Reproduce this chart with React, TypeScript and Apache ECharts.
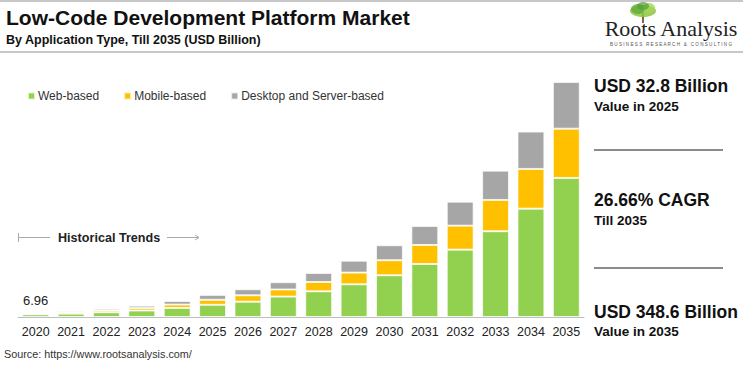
import React, { useEffect, useRef } from "react";
import * as echarts from "echarts";

const years = ["2020","2021","2022","2023","2024","2025","2026","2027","2028","2029","2030","2031","2032","2033","2034","2035"];
const webBased = [4.0, 5.0, 7.0, 9.6, 13.4, 18.1, 22.7, 30.3, 38.1, 48.5, 61.9, 78.6, 99.9, 127.2, 160.7, 206.3];
const mobileBased = [1.5, 1.8, 2.6, 3.6, 5.0, 7.4, 9.5, 10.5, 13.8, 17.4, 22.3, 28.2, 35.6, 46.4, 58.9, 73.0];
const desktopServer = [1.46, 1.8, 2.6, 3.6, 5.3, 7.3, 8.9, 10.8, 13.4, 17.6, 22.2, 28.2, 35.5, 43.4, 55.4, 69.3];
const firstLabel = "6.96";
const seriesNames = ["Web-based", "Mobile-based", "Desktop and Server-based"];
const colors = ["#92D050", "#FFC000", "#A6A6A6"];

const FONT = "Arial, 'Liberation Sans', sans-serif";

export default function App() {
  const ref = useRef<HTMLDivElement>(null);
  useEffect(() => {
    if (!ref.current) return;
    const chart = echarts.init(ref.current, undefined, { renderer: "svg" });
    const mk = (name: string, data: number[], color: string, top: boolean) => ({
      name,
      type: "bar",
      stack: "total",
      barCategoryGap: "24%",
      data: data.map((v, i) =>
        top && i === 0
          ? {
              value: v,
              label: {
                show: true,
                position: "top",
                distance: 5,
                formatter: firstLabel,
                fontSize: 13,
                color: "#222",
                fontFamily: FONT,
              },
            }
          : v
      ),
      itemStyle: { color, borderColor: "rgba(255,255,255,0.7)", borderWidth: 1 },
    });
    const textStyle = (size: number, weight = "bold", color = "#111") => ({
      fill: color,
      font: `${weight} ${size}px ${FONT}`,
    });
    chart.setOption({
      animation: false,
      textStyle: { fontFamily: FONT },
      grid: { left: 18, right: 159, top: 81, bottom: 48, containLabel: false },
      legend: {
        left: 22,
        top: 85,
        itemWidth: 7,
        itemHeight: 7,
        itemGap: 24,
        icon: "rect",
        textStyle: { fontSize: 12, color: "#333", fontFamily: FONT, padding: [0, 0, 0, -2] },
        data: seriesNames,
      },
      xAxis: {
        type: "category",
        data: years,
        axisLine: { lineStyle: { color: "#BFBFBF", width: 1 } },
        axisTick: { show: false },
        axisLabel: { interval: 0, fontSize: 12.5, color: "#222", margin: 8, fontFamily: FONT },
      },
      yAxis: { type: "value", min: 0, max: 350, show: false, splitLine: { show: false } },
      series: [
        mk(seriesNames[0], webBased, colors[0], false),
        mk(seriesNames[1], mobileBased, colors[1], false),
        mk(seriesNames[2], desktopServer, colors[2], true),
      ],
      graphic: [
        { type: "rect", shape: { x: 0, y: 0, width: 743, height: 2 }, style: { fill: "#C8C8C8" } },
        { type: "rect", shape: { x: 0, y: 51, width: 743, height: 2 }, style: { fill: "#C8C8C8" } },
        { type: "text", x: 6, y: 17, style: { text: "Low-Code Development Platform Market", ...textStyle(21), textVerticalAlign: "middle" } },
        { type: "text", x: 6, y: 40, style: { text: "By Application Type, Till 2035 (USD Billion)", ...textStyle(12.5), textVerticalAlign: "middle" } },
        // logo
        { type: "rect", shape: { x: 642, y: 13, width: 2, height: 10 }, style: { fill: "#7A6A4A" } },
        { type: "ellipse", shape: { cx: 643, cy: 11, rx: 13, ry: 6 }, style: { fill: "#8CC63F", opacity: 0.85 } },
        { type: "ellipse", shape: { cx: 638, cy: 9, rx: 7, ry: 5 }, style: { fill: "#5FAE3A", opacity: 0.8 } },
        { type: "ellipse", shape: { cx: 649, cy: 8, rx: 6, ry: 5 }, style: { fill: "#A5D65A", opacity: 0.8 } },
        { type: "ellipse", shape: { cx: 643, cy: 6, rx: 6, ry: 4 }, style: { fill: "#4E9E35", opacity: 0.7 } },
        { type: "text", x: 671, y: 28, style: { text: "Roots Analysis", fill: "#222", font: "22px 'Liberation Serif', 'DejaVu Serif', serif", textAlign: "center", textVerticalAlign: "middle" } },
        { type: "text", x: 671, y: 44, style: { text: "B U S I N E S S   R E S E A R C H   &   C O N S U L T I N G", fill: "#555", font: `4.6px ${FONT}`, textAlign: "center", textVerticalAlign: "middle" } },
        // historical trends
        { type: "line", shape: { x1: 18, y1: 237.5, x2: 50, y2: 237.5 }, style: { stroke: "#AAAAAA", lineWidth: 1 } },
        { type: "line", shape: { x1: 18.5, y1: 233, x2: 18.5, y2: 242 }, style: { stroke: "#AAAAAA", lineWidth: 1 } },
        { type: "text", x: 58, y: 238, style: { text: "Historical Trends", ...textStyle(12.6, "bold", "#222"), textVerticalAlign: "middle" } },
        { type: "line", shape: { x1: 167, y1: 237.5, x2: 199, y2: 237.5 }, style: { stroke: "#AAAAAA", lineWidth: 1 } },
        { type: "polyline", shape: { points: [[195, 235], [199, 237.5], [195, 240]] }, style: { stroke: "#AAAAAA", lineWidth: 1, fill: "none" } },
        // right panel
        { type: "text", x: 594, y: 86, style: { text: "USD 32.8 Billion", ...textStyle(17.5), textVerticalAlign: "middle" } },
        { type: "text", x: 594, y: 106, style: { text: "Value in 2025", ...textStyle(13.5), textVerticalAlign: "middle" } },
        { type: "rect", shape: { x: 594, y: 149, width: 129, height: 2 }, style: { fill: "#8C8C8C" } },
        { type: "text", x: 594, y: 200, style: { text: "26.66% CAGR", ...textStyle(17.5), textVerticalAlign: "middle" } },
        { type: "text", x: 594, y: 220, style: { text: "Till 2035", ...textStyle(13.5), textVerticalAlign: "middle" } },
        { type: "rect", shape: { x: 594, y: 267, width: 129, height: 2 }, style: { fill: "#8C8C8C" } },
        { type: "text", x: 594, y: 312, style: { text: "USD 348.6 Billion", ...textStyle(17.5), textVerticalAlign: "middle" } },
        { type: "text", x: 594, y: 331, style: { text: "Value in 2035", ...textStyle(13.5), textVerticalAlign: "middle" } },
        // source
        { type: "text", x: 4, y: 354, style: { text: "Source: https://www.rootsanalysis.com/", fill: "#333", font: `10.8px ${FONT}`, textVerticalAlign: "middle" } },
      ],
    });
    return () => chart.dispose();
  }, []);
  return (
    <div
      ref={ref}
      style={{ position: "fixed", left: 0, top: 0, width: 743, height: 365, background: "#fff" }}
    />
  );
}
